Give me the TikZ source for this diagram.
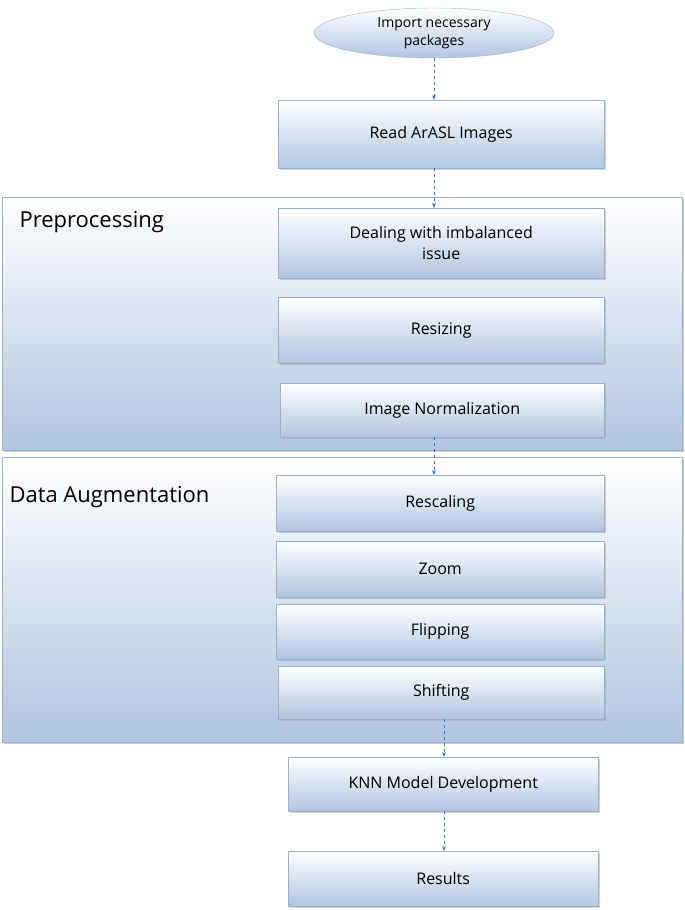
\documentclass[tikz,border=0pt]{standalone}
\usepackage{fontspec}
\setmainfont{Open Sans}
\usetikzlibrary{shapes.geometric,shadows,arrows.meta}
\definecolor{lb}{HTML}{B0C5E0}
\definecolor{bd}{HTML}{9AAFC8}
\definecolor{ar}{HTML}{3F6FBF}
\tikzset{
 bx/.style={draw=bd,top color=white,bottom color=lb,anchor=north west,align=center,
   font=\fontsize{16}{21}\selectfont,drop shadow={shadow xshift=2pt,shadow yshift=-2pt,fill=black!35},inner sep=0pt},
 grp/.style={draw=bd,top color=white,bottom color=lb,anchor=north west,inner sep=0pt,
   drop shadow={shadow xshift=2pt,shadow yshift=-2pt,fill=black!40}},
 con/.style={draw=ar,dashed,-{Stealth[length=5pt]},thick},
 ttl/.style={anchor=west,font=\fontsize{22}{26}\selectfont}
}
\begin{document}
\begin{tikzpicture}[x=1pt,y=-1pt]
\useasboundingbox (0,0) rectangle (685,910);
\node[grp,minimum width=680,minimum height=253] (g1) at (2,197) {};
\node[grp,minimum width=680,minimum height=285] (g2) at (2,457) {};
\node[ttl] (t1) at (16,222) {Preprocessing};
\node[ttl] (t2) at (6,497) {Data Augmentation};
\node[ellipse,draw=bd,top color=white,bottom color=lb,minimum width=240,minimum height=50,align=center,
  font=\fontsize{14}{18}\selectfont,inner sep=0pt] (e) at (434,33) {Import necessary\\packages};
\node[bx,minimum width=326,minimum height=68] (r) at (278,100) {Read ArASL Images};
\node[bx,minimum width=326,minimum height=70] (d) at (278,208) {Dealing with imbalanced\\issue};
\node[bx,minimum width=326,minimum height=66] (rs) at (278,297) {Resizing};
\node[bx,minimum width=324,minimum height=54] (n) at (280,383) {Image Normalization};
\node[bx,minimum width=328,minimum height=56] (rc) at (276,475) {Rescaling};
\node[bx,minimum width=328,minimum height=56] (z) at (276,541) {Zoom};
\node[bx,minimum width=328,minimum height=55] (f) at (276,604) {Flipping};
\node[bx,minimum width=326,minimum height=53] (s) at (278,666) {Shifting};
\node[bx,minimum width=310,minimum height=54] (k) at (288,757) {KNN Model Development};
\node[bx,minimum width=310,minimum height=55] (res) at (288,851) {Results};
\draw[con] (e.south) -- (e.south |- r.north);
\draw[con] (r.south -| e.south) -- (e.south |- d.north);
\draw[con] (n.south -| e.south) -- (e.south |- rc.north);
\coordinate (c1) at (444,0);
\draw[con] (s.south -| c1) -- (c1 |- k.north);
\draw[con] (k.south -| c1) -- (c1 |- res.north);
\end{tikzpicture}
\end{document}
